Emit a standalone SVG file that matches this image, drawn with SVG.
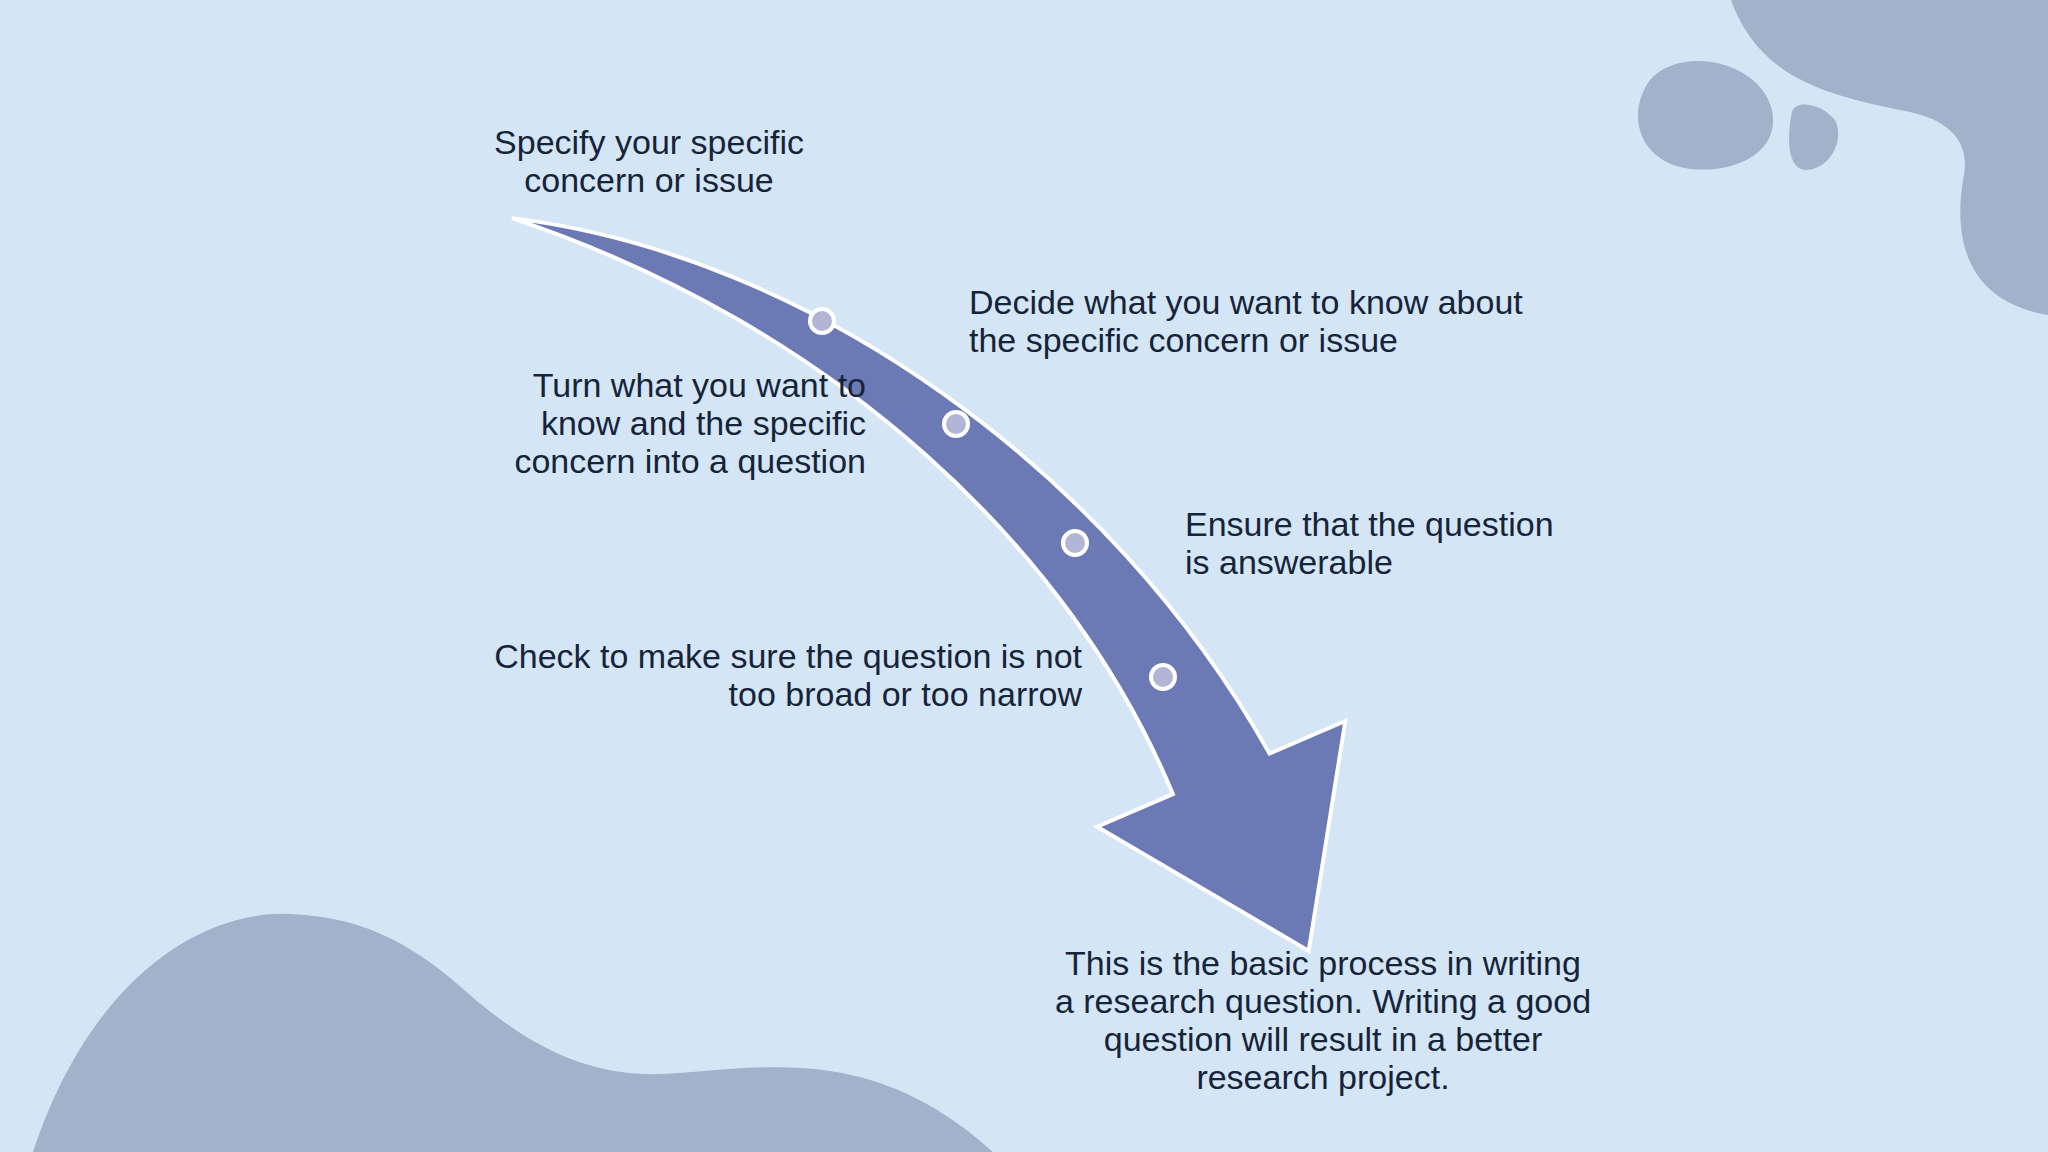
<svg xmlns="http://www.w3.org/2000/svg" width="2048" height="1152" viewBox="0 0 2048 1152">
<style>
.t{font-family:"Liberation Sans",Arial,sans-serif;font-size:34px;fill:#16243a}
.blob{fill:#a1b2ca}
.dot{fill:#b3b5d6;stroke:#fff;stroke-width:4}
</style>
<rect width="2048" height="1152" fill="#d4e6f5"/>
<g id="decor">
<path class="blob" d="M1731,0 C1760,80 1830,95 1900,110 C1960,120 1970,150 1963,180 C1955,230 1960,300 2048,315 L2048,0 Z"/>
<path class="blob" d="M1650,80 C1680,45 1760,60 1772,110 C1782,160 1720,175 1685,168 C1640,160 1625,115 1650,80 Z"/>
<path class="blob" d="M1792,112 C1795,100 1820,102 1835,120 C1845,140 1830,170 1805,170 C1785,168 1788,130 1792,112 Z"/>
<path class="blob" d="M33,1152 C90,980 200,910 290,914 C370,917 420,950 470,995 C540,1055 600,1080 680,1073 C780,1065 880,1050 993,1152 Z"/>
</g>
<g id="connectors">
<g transform="scale(1.3061)">
<path d="M392,167 C620,195 850,360 972,577 L1030,552 L1002,728 L840,633 L898,608 C820,420 640,250 392,167 Z" fill="#6b79b5" stroke="#fff" stroke-width="3" stroke-linejoin="miter"/>
</g>
<circle class="dot" cx="822" cy="321" r="12"/>
<circle class="dot" cx="956" cy="424" r="12"/>
<circle class="dot" cx="1075" cy="543" r="12"/>
<circle class="dot" cx="1163" cy="677" r="12"/>
</g>
<g id="n1"><text class="t" text-anchor="middle" x="649" y="154">Specify your specific</text><text class="t" text-anchor="middle" x="649" y="192">concern or issue</text></g>
<g id="n2"><text class="t" x="969" y="314">Decide what you want to know about</text><text class="t" x="969" y="352">the specific concern or issue</text></g>
<g id="n3"><text class="t" text-anchor="end" x="866" y="397">Turn what you want to</text><text class="t" text-anchor="end" x="866" y="435">know and the specific</text><text class="t" text-anchor="end" x="866" y="473">concern into a question</text></g>
<g id="n4"><text class="t" x="1185" y="536">Ensure that the question</text><text class="t" x="1185" y="574">is answerable</text></g>
<g id="n5"><text class="t" text-anchor="end" x="1082" y="668">Check to make sure the question is not</text><text class="t" text-anchor="end" x="1082" y="706">too broad or too narrow</text></g>
<g id="n6"><text class="t" text-anchor="middle" x="1323" y="975">This is the basic process in writing</text><text class="t" text-anchor="middle" x="1323" y="1013">a research question. Writing a good</text><text class="t" text-anchor="middle" x="1323" y="1051">question will result in a better</text><text class="t" text-anchor="middle" x="1323" y="1089">research project.</text></g>
</svg>
